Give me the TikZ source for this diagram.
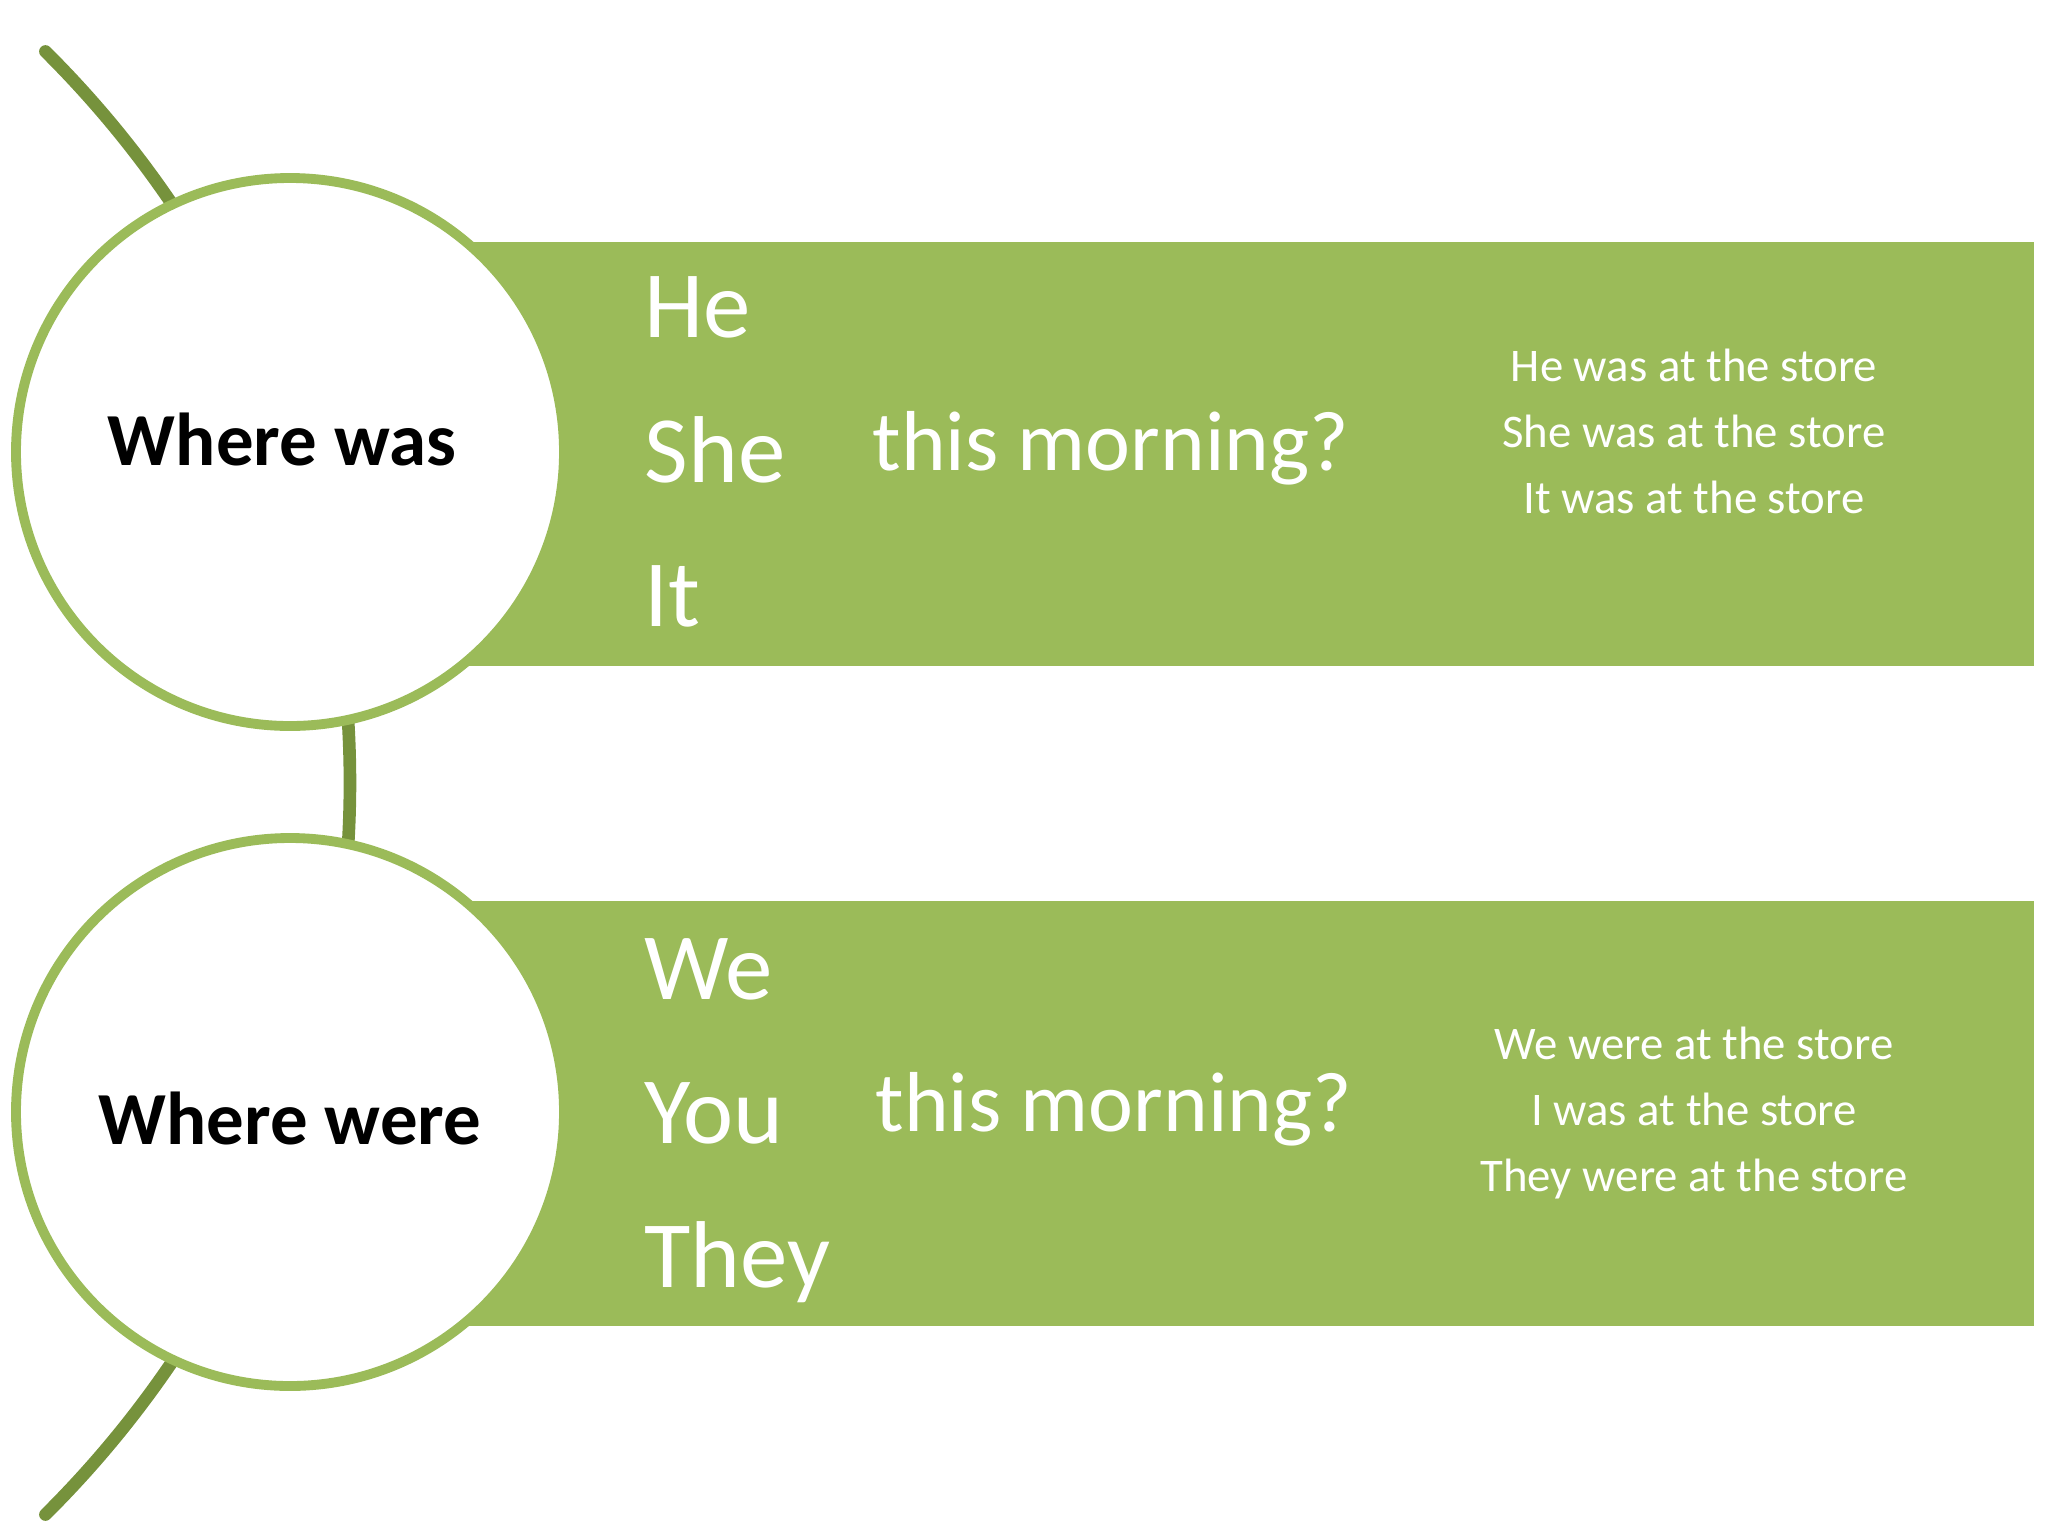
\documentclass[tikz,border=0pt]{standalone}
\usepackage{fontspec}
\setmainfont{Carlito}
\definecolor{olive}{HTML}{9BBB59}
\definecolor{darkolive}{HTML}{76923C}
\begin{document}
\begin{tikzpicture}[x=0.01cm,y=-0.01cm,
  band/.style={fill=olive,draw=none},
  ring/.style={draw=olive,line width=2.8pt,fill=white},
  spine/.style={draw=darkolive,line width=3.6pt,line cap=round},
  pron/.style={anchor=base west,inner sep=0pt,text=white,font=\fontsize{27}{30}\selectfont},
  quest/.style={anchor=base west,inner sep=0pt,text=white,font=\fontsize{24.2}{28}\selectfont},
  ans/.style={anchor=base,inner sep=0pt,text=white,font=\fontsize{13.3}{16}\selectfont},
  head/.style={anchor=base,inner sep=0pt,text=black,font=\bfseries\fontsize{21.3}{24}\selectfont}]
\useasboundingbox (0,0) rectangle (2048,1536);
% spine arc
\coordinate (arcc) at (-681,783);
\draw[spine] (arcc) ++(45.2:1031) arc[start angle=45.2,end angle=-45.2,radius=1031];
% bands
\path[band] (290,242) rectangle (2034,666);
\path[band] (290,901) rectangle (2034,1326);
% circles
\draw[ring] (290,452) circle[radius=274];
\draw[ring] (290,1112) circle[radius=274];
\node[head] (h1) at (282,465) {Where was};
\node[head] (h2) at (290,1144) {Where were};
% pronouns
\node[pron] (p1) at (644,337) {He};
\node[pron] (p2) at (644,482) {She};
\node[pron] (p3) at (644,626) {It};
\node[pron] (p4) at (644,999) {We};
\node[pron] (p5) at (644,1143) {You};
\node[pron] (p6) at (644,1287) {They};
\node[quest] (q1) at (872,470) {this morning?};
\node[quest] (q2) at (875,1131) {this morning?};
% answers
\node[ans] (a1) at (1694,381) {He was at the store};
\node[ans] (a2) at (1694,447) {She was at the store};
\node[ans] (a3) at (1694,513) {It was at the store};
\node[ans] (a4) at (1694,1059) {We were at the store};
\node[ans] (a5) at (1694,1125) {I was at the store};
\node[ans] (a6) at (1694,1191) {They were at the store};
\end{tikzpicture}
\end{document}
